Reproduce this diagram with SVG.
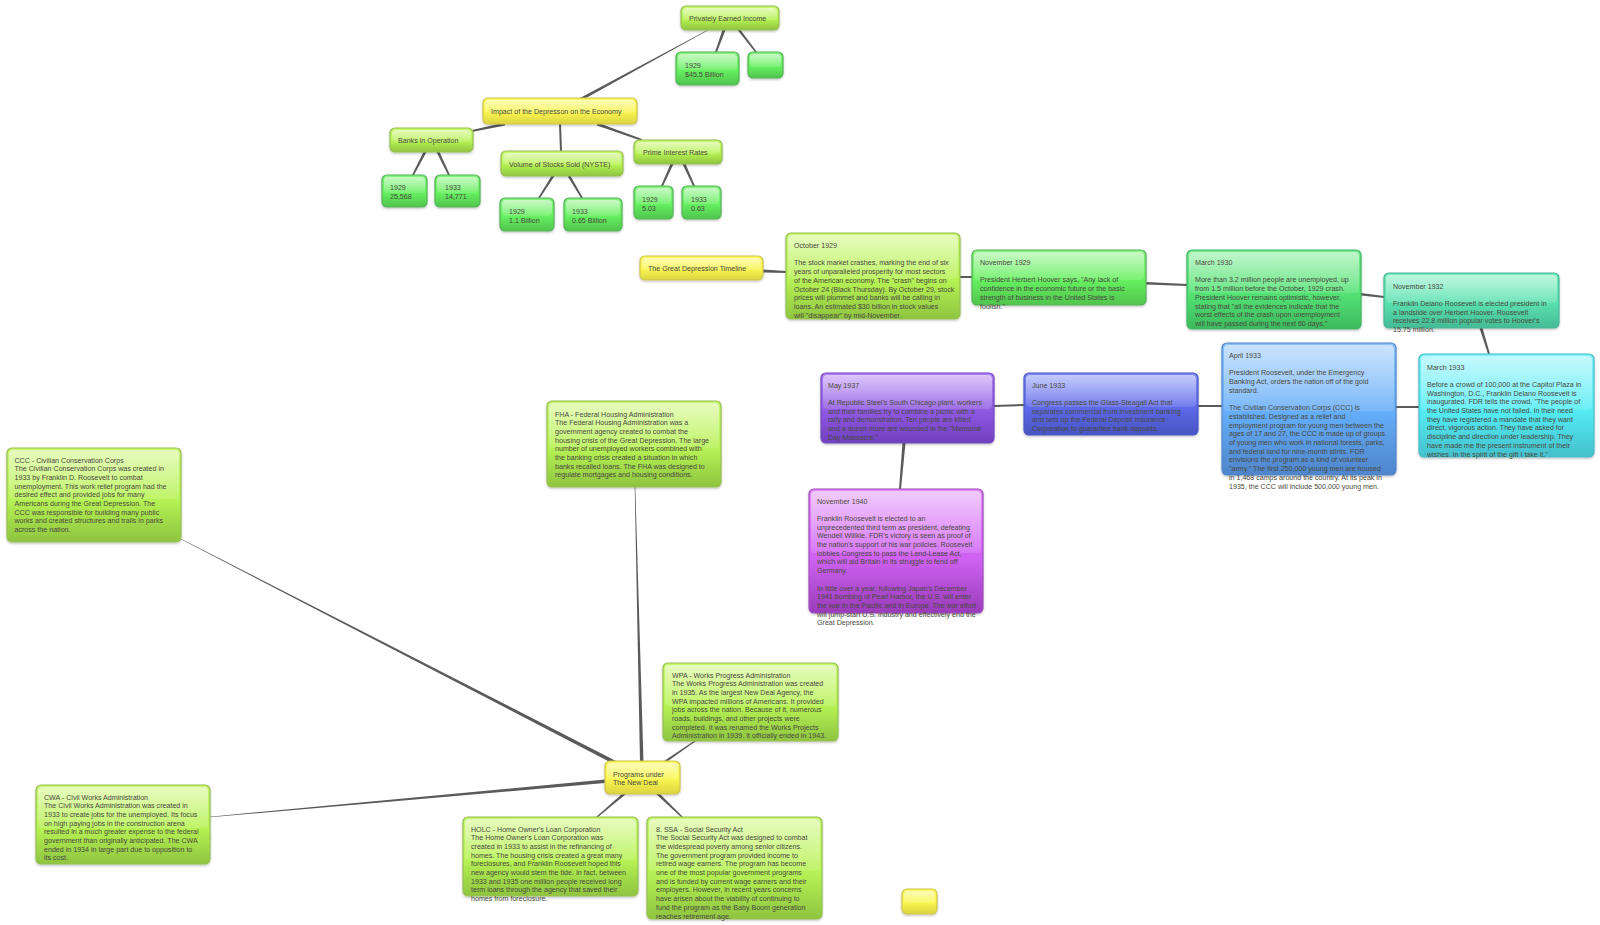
<svg xmlns="http://www.w3.org/2000/svg" width="1600" height="925" viewBox="0 0 1600 925">
<style>
text{font-family:"Liberation Sans",Arial,sans-serif;font-size:7.1px;fill:#4a4a40}
.b{stroke-width:1.2}
.g{fill:url(#gloss)}
#connectors polygon{fill:#5a5a5a}
.yellow .b{fill:url(#gy);stroke:#cfc64c}
.lime .b{fill:url(#gl);stroke:#97c050}
.green .b{fill:url(#gg);stroke:#52b556}
.mar30 .b{fill:url(#gm);stroke:#42b864}
.nov32 .b{fill:url(#gn);stroke:#48b596}
.mar33 .b{fill:url(#gc);stroke:#48bdc7}
.apr .b{fill:url(#ga);stroke:#5088cc}
.jun .b{fill:url(#gj);stroke:#4c58c4}
.may .b{fill:url(#gp);stroke:#7448c0}
.nov40 .b{fill:url(#gv);stroke:#a24dc0}
</style>
<defs>
<filter id="s" x="-10%" y="-10%" width="120%" height="125%"><feDropShadow dx="0" dy="1.2" stdDeviation="1" flood-color="#000" flood-opacity=".25"/></filter>
<linearGradient id="gloss" x1="0" y1="0" x2="0" y2="1"><stop offset="0" stop-color="#fff" stop-opacity=".55"/><stop offset="1" stop-color="#fff" stop-opacity=".12"/></linearGradient>
<linearGradient id="gy" x1="0" y1="0" x2="0" y2="1"><stop offset="0" stop-color="#fbf860"/><stop offset=".55" stop-color="#f9f550"/><stop offset="1" stop-color="#dcd340"/></linearGradient>
<linearGradient id="gl" x1="0" y1="0" x2="0" y2="1"><stop offset="0" stop-color="#c8f66e"/><stop offset=".55" stop-color="#b6f254"/><stop offset="1" stop-color="#8ec440"/></linearGradient>
<linearGradient id="gg" x1="0" y1="0" x2="0" y2="1"><stop offset="0" stop-color="#86f27e"/><stop offset=".55" stop-color="#66f060"/><stop offset="1" stop-color="#50c44e"/></linearGradient>
<linearGradient id="gm" x1="0" y1="0" x2="0" y2="1"><stop offset="0" stop-color="#72ea8a"/><stop offset=".55" stop-color="#54e274"/><stop offset="1" stop-color="#3cba5e"/></linearGradient>
<linearGradient id="gn" x1="0" y1="0" x2="0" y2="1"><stop offset="0" stop-color="#72ecbc"/><stop offset=".55" stop-color="#5ae0b0"/><stop offset="1" stop-color="#44bb94"/></linearGradient>
<linearGradient id="gc" x1="0" y1="0" x2="0" y2="1"><stop offset="0" stop-color="#7cf2fa"/><stop offset=".55" stop-color="#54ecf4"/><stop offset="1" stop-color="#44c0cc"/></linearGradient>
<linearGradient id="ga" x1="0" y1="0" x2="0" y2="1"><stop offset="0" stop-color="#88c0fc"/><stop offset=".55" stop-color="#64acf8"/><stop offset="1" stop-color="#4e85ca"/></linearGradient>
<linearGradient id="gj" x1="0" y1="0" x2="0" y2="1"><stop offset="0" stop-color="#7c88f4"/><stop offset=".55" stop-color="#5e6aea"/><stop offset="1" stop-color="#4854c2"/></linearGradient>
<linearGradient id="gp" x1="0" y1="0" x2="0" y2="1"><stop offset="0" stop-color="#b080f4"/><stop offset=".55" stop-color="#8e58e2"/><stop offset="1" stop-color="#7040be"/></linearGradient>
<linearGradient id="gv" x1="0" y1="0" x2="0" y2="1"><stop offset="0" stop-color="#e088fa"/><stop offset=".55" stop-color="#d062f4"/><stop offset="1" stop-color="#983cb8"/></linearGradient>
</defs>
<rect width="1600" height="925" fill="#fff"/>
<g id="connectors">
<polygon points="580,98 586,98 708.5,30 707.5,30"/>
<polygon points="722.5,30 725.5,30 717,52 715,52"/>
<polygon points="737.5,30 740.5,30 757,52 755,52"/>
<polygon points="505,122.5 505,125.5 472,132 472,130"/>
<polygon points="559,124 561,124 562,151 560,151"/>
<polygon points="597,122.5 597,125.5 642,141 642,139"/>
<polygon points="423.5,152 426.5,152 414,175 412,175"/>
<polygon points="436.5,152 439.5,152 450,175 448,175"/>
<polygon points="551.5,176 554.5,176 540,198 538,198"/>
<polygon points="567.5,176 570.5,176 583,198 581,198"/>
<polygon points="670.5,164 673.5,164 663,186 661,186"/>
<polygon points="682.5,164 685.5,164 695,186 693,186"/>
<polygon points="763,269.5 763,272.5 786,273 786,271"/>
<polygon points="960,276 960,278 972,278 972,276"/>
<polygon points="1146,282 1146,284.5 1187,286 1187,284"/>
<polygon points="1361,293 1361,295.5 1384,298 1384,296"/>
<polygon points="1479.5,328 1482.5,328 1490,354 1488,354"/>
<polygon points="1419,406 1419,408 1396,408 1396,406"/>
<polygon points="1222,405 1222,407 1198,407 1198,405"/>
<polygon points="1024,404 1024,406 994,407 994,405"/>
<polygon points="902.5,443 905.5,443 901,489 899,489"/>
<polygon points="608,761 616,761 181.5,539 180.5,539"/>
<polygon points="640,762 643.5,762 635.3,487 634.7,487"/>
<polygon points="664,761 668,761 696,741 694,741"/>
<polygon points="605,779.5 605,783 210,817.3 210,816.7"/>
<polygon points="622,794 626,794 598,817 596,817"/>
<polygon points="656,794 660,794 683,817 681,817"/>
</g>

<g id="n-privately" class="lime"><rect class="b" x="681" y="6" width="98" height="24" rx="5" filter="url(#s)"/><rect class="g" x="683" y="8" width="94" height="12" rx="4"/><text x="689" y="20.5">Privately Earned Income</text></g>
<g id="n-income-1929" class="green"><rect class="b" x="676" y="52" width="63" height="33" rx="5" filter="url(#s)"/><rect class="g" x="678" y="54" width="59" height="16" rx="4"/><text x="685" y="68"><tspan x="685">1929</tspan><tspan x="685" dy="9">$45.5 Billion</tspan></text></g>
<g id="n-income-empty" class="green"><rect class="b" x="748" y="52" width="35" height="26" rx="5" filter="url(#s)"/><rect class="g" x="750" y="54" width="31" height="13" rx="4"/></g>
<g id="n-impact" class="yellow"><rect class="b" x="483" y="98" width="154" height="26" rx="5" filter="url(#s)"/><rect class="g" x="485" y="100" width="150" height="13" rx="4"/><text x="491" y="114">Impact of the Depresson on the Economy</text></g>
<g id="n-banks" class="lime"><rect class="b" x="390" y="128" width="83" height="24" rx="5" filter="url(#s)"/><rect class="g" x="392" y="130" width="79" height="12" rx="4"/><text x="398" y="143">Banks in Operation</text></g>
<g id="n-volume" class="lime"><rect class="b" x="501" y="151" width="122" height="25" rx="5" filter="url(#s)"/><rect class="g" x="503" y="153" width="118" height="12" rx="4"/><text x="509" y="166.5">Volume of Stocks Sold (NYSTE)</text></g>
<g id="n-prime" class="lime"><rect class="b" x="634" y="140" width="88" height="24" rx="5" filter="url(#s)"/><rect class="g" x="636" y="142" width="84" height="12" rx="4"/><text x="643" y="155">Prime Interest Rates</text></g>
<g id="n-banks-1929" class="green"><rect class="b" x="382" y="175" width="45" height="32" rx="5" filter="url(#s)"/><rect class="g" x="384" y="177" width="41" height="16" rx="4"/><text y="190"><tspan x="390">1929</tspan><tspan x="390" dy="9">25,568</tspan></text></g>
<g id="n-banks-1933" class="green"><rect class="b" x="435" y="175" width="45" height="32" rx="5" filter="url(#s)"/><rect class="g" x="437" y="177" width="41" height="16" rx="4"/><text y="190"><tspan x="445">1933</tspan><tspan x="445" dy="9">14,771</tspan></text></g>
<g id="n-vol-1929" class="green"><rect class="b" x="500" y="198" width="54" height="33" rx="5" filter="url(#s)"/><rect class="g" x="502" y="200" width="50" height="16" rx="4"/><text y="213.5"><tspan x="509">1929</tspan><tspan x="509" dy="9">1.1 Billion</tspan></text></g>
<g id="n-vol-1933" class="green"><rect class="b" x="564" y="198" width="58" height="33" rx="5" filter="url(#s)"/><rect class="g" x="566" y="200" width="54" height="16" rx="4"/><text y="213.5"><tspan x="572">1933</tspan><tspan x="572" dy="9">0.65 Billion</tspan></text></g>
<g id="n-prime-1929" class="green"><rect class="b" x="634" y="186" width="39" height="33" rx="5" filter="url(#s)"/><rect class="g" x="636" y="188" width="35" height="16" rx="4"/><text y="201.5"><tspan x="642">1929</tspan><tspan x="642" dy="9">5.03</tspan></text></g>
<g id="n-prime-1933" class="green"><rect class="b" x="682" y="186" width="39" height="33" rx="5" filter="url(#s)"/><rect class="g" x="684" y="188" width="35" height="16" rx="4"/><text y="201.5"><tspan x="691">1933</tspan><tspan x="691" dy="9">0.63</tspan></text></g>

<g id="n-timeline" class="yellow"><rect class="b" x="640" y="256" width="123" height="24" rx="5" filter="url(#s)"/><rect class="g" x="642" y="258" width="119" height="12" rx="4"/><text x="648" y="271">The Great Depression Timeline</text></g>
<g id="n-oct29" class="lime"><rect class="b" x="786" y="233" width="174" height="86" rx="5" filter="url(#s)"/><rect class="g" x="788" y="235" width="170" height="44" rx="4"/><text y="248"><tspan x="794">October 1929</tspan><tspan x="794" dy="17.4">The stock market crashes, marking the end of six</tspan><tspan x="794" dy="8.7">years of unparalleled prosperity for most sectors</tspan><tspan x="794" dy="8.7">of the American economy. The "crash" begins on</tspan><tspan x="794" dy="8.7">October 24 (Black Thursday). By October 29, stock</tspan><tspan x="794" dy="8.7">prices will plummet and banks will be calling in</tspan><tspan x="794" dy="8.7">loans. An estimated $30 billion in stock values</tspan><tspan x="794" dy="8.7">will "disappear" by mid-November.</tspan></text></g>
<g id="n-nov29" class="green"><rect class="b" x="972" y="250" width="174" height="55" rx="5" filter="url(#s)"/><rect class="g" x="974" y="252" width="170" height="28" rx="4"/><text y="265"><tspan x="980">November 1929</tspan><tspan x="980" dy="17.4">President Herbert Hoover says, "Any lack of</tspan><tspan x="980" dy="8.7">confidence in the economic future or the basic</tspan><tspan x="980" dy="8.7">strength of business in the United States is</tspan><tspan x="980" dy="8.7">foolish."</tspan></text></g>
<g id="n-mar30" class="mar30"><rect class="b" x="1187" y="250" width="174" height="79" rx="5" filter="url(#s)"/><rect class="g" x="1189" y="252" width="170" height="41" rx="4"/><text y="265"><tspan x="1195">March 1930</tspan><tspan x="1195" dy="17.4">More than 3.2 million people are unemployed, up</tspan><tspan x="1195" dy="8.7">from 1.5 million before the October, 1929 crash.</tspan><tspan x="1195" dy="8.7">President Hoover remains optimistic, however,</tspan><tspan x="1195" dy="8.7">stating that "all the evidences indicate that the</tspan><tspan x="1195" dy="8.7">worst effects of the crash upon unemployment</tspan><tspan x="1195" dy="8.7">will have passed during the next 60 days."</tspan></text></g>
<g id="n-nov32" class="nov32"><rect class="b" x="1384" y="273" width="175" height="55" rx="5" filter="url(#s)"/><rect class="g" x="1386" y="275" width="171" height="28" rx="4"/><text y="288.5"><tspan x="1393">November 1932</tspan><tspan x="1393" dy="17.4">Franklin Delano Roosevelt is elected president in</tspan><tspan x="1393" dy="8.7">a landslide over Herbert Hoover. Roosevelt</tspan><tspan x="1393" dy="8.7">receives 22.8 million popular votes to Hoover's</tspan><tspan x="1393" dy="8.7">15.75 million.</tspan></text></g>
<g id="n-mar33" class="mar33"><rect class="b" x="1419" y="354" width="175" height="103" rx="5" filter="url(#s)"/><rect class="g" x="1421" y="356" width="171" height="54" rx="4"/><text y="369.5"><tspan x="1427">March 1933</tspan><tspan x="1427" dy="17.4">Before a crowd of 100,000 at the Capitol Plaza in</tspan><tspan x="1427" dy="8.7">Washington, D.C., Franklin Delano Roosevelt is</tspan><tspan x="1427" dy="8.7">inaugurated. FDR tells the crowd, "The people of</tspan><tspan x="1427" dy="8.7">the United States have not failed. In their need</tspan><tspan x="1427" dy="8.7">they have registered a mandate that they want</tspan><tspan x="1427" dy="8.7">direct, vigorous action. They have asked for</tspan><tspan x="1427" dy="8.7">discipline and direction under leadership. They</tspan><tspan x="1427" dy="8.7">have made me the present instrument of their</tspan><tspan x="1427" dy="8.7">wishes. In the spirit of the gift I take it."</tspan></text></g>
<g id="n-apr33" class="apr"><rect class="b" x="1222" y="343" width="174" height="132" rx="5" filter="url(#s)"/><rect class="g" x="1224" y="345" width="170" height="66" rx="4"/><text y="358"><tspan x="1229">April 1933</tspan><tspan x="1229" dy="17.4">President Roosevelt, under the Emergency</tspan><tspan x="1229" dy="8.7">Banking Act, orders the nation off of the gold</tspan><tspan x="1229" dy="8.7">standard.</tspan><tspan x="1229" dy="17.4">The Civilian Conservation Corps (CCC) is</tspan><tspan x="1229" dy="8.7">established. Designed as a relief and</tspan><tspan x="1229" dy="8.7">employment program for young men between the</tspan><tspan x="1229" dy="8.7">ages of 17 and 27, the CCC is made up of groups</tspan><tspan x="1229" dy="8.7">of young men who work in national forests, parks,</tspan><tspan x="1229" dy="8.7">and federal land for nine-month stints. FDR</tspan><tspan x="1229" dy="8.7">envisions the program as a kind of volunteer</tspan><tspan x="1229" dy="8.7">"army." The first 250,000 young men are housed</tspan><tspan x="1229" dy="8.7">in 1,468 camps around the country. At its peak in</tspan><tspan x="1229" dy="8.7">1935, the CCC will include 500,000 young men.</tspan></text></g>
<g id="n-jun33" class="jun"><rect class="b" x="1024" y="373" width="174" height="62" rx="5" filter="url(#s)"/><rect class="g" x="1026" y="375" width="170" height="32" rx="4"/><text y="387.5"><tspan x="1032">June 1933</tspan><tspan x="1032" dy="17.4">Congress passes the Glass-Steagall Act that</tspan><tspan x="1032" dy="8.7">separates commercial from investment banking</tspan><tspan x="1032" dy="8.7">and sets up the Federal Deposit Insurance</tspan><tspan x="1032" dy="8.7">Corporation to guarantee bank deposits.</tspan></text></g>
<g id="n-may37" class="may"><rect class="b" x="821" y="373" width="173" height="70" rx="5" filter="url(#s)"/><rect class="g" x="823" y="375" width="169" height="34" rx="4"/><text y="387.5"><tspan x="828">May 1937</tspan><tspan x="828" dy="17.4">At Republic Steel's South Chicago plant, workers</tspan><tspan x="828" dy="8.7">and their families try to combine a picnic with a</tspan><tspan x="828" dy="8.7">rally and demonstration. Ten people are killed</tspan><tspan x="828" dy="8.7">and a dozen more are wounded in the "Memorial</tspan><tspan x="828" dy="8.7">Day Massacre."</tspan></text></g>
<g id="n-nov40" class="nov40"><rect class="b" x="809" y="489" width="174" height="124" rx="5" filter="url(#s)"/><rect class="g" x="811" y="491" width="170" height="62" rx="4"/><text y="503.5"><tspan x="817">November 1940</tspan><tspan x="817" dy="17.4">Franklin Roosevelt is elected to an</tspan><tspan x="817" dy="8.7">unprecedented third term as president, defeating</tspan><tspan x="817" dy="8.7">Wendell Willkie. FDR's victory is seen as proof of</tspan><tspan x="817" dy="8.7">the nation's support of his war policies. Roosevelt</tspan><tspan x="817" dy="8.7">lobbies Congress to pass the Lend-Lease Act,</tspan><tspan x="817" dy="8.7">which will aid Britain in its struggle to fend off</tspan><tspan x="817" dy="8.7">Germany.</tspan><tspan x="817" dy="17.4">In little over a year, following Japan's December</tspan><tspan x="817" dy="8.7">1941 bombing of Pearl Harbor, the U.S. will enter</tspan><tspan x="817" dy="8.7">the war in the Pacific and in Europe. The war effort</tspan><tspan x="817" dy="8.7">will jump-start U.S. industry and effectively end the</tspan><tspan x="817" dy="8.7">Great Depression.</tspan></text></g>

<g id="n-fha" class="lime"><rect class="b" x="547" y="401" width="174" height="86" rx="5" filter="url(#s)"/><rect class="g" x="549" y="403" width="170" height="45" rx="4"/><text y="416.5"><tspan x="555">FHA - Federal Housing Administration</tspan><tspan x="555" dy="8.7">The Federal Housing Administration was a</tspan><tspan x="555" dy="8.7">government agency created to combat the</tspan><tspan x="555" dy="8.7">housing crisis of the Great Depression. The large</tspan><tspan x="555" dy="8.7">number of unemployed workers combined with</tspan><tspan x="555" dy="8.7">the banking crisis created a situation in which</tspan><tspan x="555" dy="8.7">banks recalled loans. The FHA was designed to</tspan><tspan x="555" dy="8.7">regulate mortgages and housing conditions.</tspan></text></g>
<g id="n-ccc" class="lime"><rect class="b" x="7" y="448" width="174" height="94" rx="5" filter="url(#s)"/><rect class="g" x="9" y="450" width="170" height="49" rx="4"/><text y="462.5"><tspan x="14.5">CCC - Civilian Conservation Corps</tspan><tspan x="14.5" dy="8.7">The Civilian Conservation Corps was created in</tspan><tspan x="14.5" dy="8.7">1933 by Franklin D. Roosevelt to combat</tspan><tspan x="14.5" dy="8.7">unemployment. This work relief program had the</tspan><tspan x="14.5" dy="8.7">desired effect and provided jobs for many</tspan><tspan x="14.5" dy="8.7">Americans during the Great Depression. The</tspan><tspan x="14.5" dy="8.7">CCC was responsible for building many public</tspan><tspan x="14.5" dy="8.7">works and created structures and trails in parks</tspan><tspan x="14.5" dy="8.7">across the nation.</tspan></text></g>
<g id="n-wpa" class="lime"><rect class="b" x="663" y="663" width="175" height="78" rx="5" filter="url(#s)"/><rect class="g" x="665" y="665" width="171" height="41" rx="4"/><text y="677.5"><tspan x="672">WPA - Works Progress Administration</tspan><tspan x="672" dy="8.7">The Works Progress Administration was created</tspan><tspan x="672" dy="8.7">in 1935. As the largest New Deal Agency, the</tspan><tspan x="672" dy="8.7">WPA impacted millions of Americans. It provided</tspan><tspan x="672" dy="8.7">jobs across the nation. Because of it, numerous</tspan><tspan x="672" dy="8.7">roads, buildings, and other projects were</tspan><tspan x="672" dy="8.7">completed. It was renamed the Works Projects</tspan><tspan x="672" dy="8.7">Administration in 1939. It officially ended in 1943.</tspan></text></g>
<g id="n-programs" class="yellow"><rect class="b" x="605" y="761" width="75" height="33" rx="5" filter="url(#s)"/><rect class="g" x="607" y="763" width="71" height="16" rx="4"/><text y="776.5"><tspan x="613">Programs under</tspan><tspan x="613" dy="8.7">The New Deal</tspan></text></g>
<g id="n-cwa" class="lime"><rect class="b" x="36" y="785" width="174" height="79" rx="5" filter="url(#s)"/><rect class="g" x="38" y="787" width="170" height="41" rx="4"/><text y="799.5"><tspan x="44">CWA - Civil Works Administration</tspan><tspan x="44" dy="8.7">The Civil Works Administration was created in</tspan><tspan x="44" dy="8.7">1933 to create jobs for the unemployed. Its focus</tspan><tspan x="44" dy="8.7">on high paying jobs in the construction arena</tspan><tspan x="44" dy="8.7">resulted in a much greater expense to the federal</tspan><tspan x="44" dy="8.7">government than originally anticipated. The CWA</tspan><tspan x="44" dy="8.7">ended in 1934 in large part due to opposition to</tspan><tspan x="44" dy="8.7">its cost.</tspan></text></g>
<g id="n-holc" class="lime"><rect class="b" x="463" y="817" width="175" height="79" rx="5" filter="url(#s)"/><rect class="g" x="465" y="819" width="171" height="41" rx="4"/><text y="831.5"><tspan x="471">HOLC - Home Owner's Loan Corporation</tspan><tspan x="471" dy="8.7">The Home Owner's Loan Corporation was</tspan><tspan x="471" dy="8.7">created in 1933 to assist in the refinancing of</tspan><tspan x="471" dy="8.7">homes. The housing crisis created a great many</tspan><tspan x="471" dy="8.7">foreclosures, and Franklin Roosevelt hoped this</tspan><tspan x="471" dy="8.7">new agency would stem the tide. In fact, between</tspan><tspan x="471" dy="8.7">1933 and 1935 one million people received long</tspan><tspan x="471" dy="8.7">term loans through the agency that saved their</tspan><tspan x="471" dy="8.7">homes from foreclosure.</tspan></text></g>
<g id="n-ssa" class="lime"><rect class="b" x="647" y="817" width="175" height="102" rx="5" filter="url(#s)"/><rect class="g" x="649" y="819" width="171" height="52" rx="4"/><text y="831.5"><tspan x="656">8. SSA - Social Security Act</tspan><tspan x="656" dy="8.7">The Social Security Act was designed to combat</tspan><tspan x="656" dy="8.7">the widespread poverty among senior citizens.</tspan><tspan x="656" dy="8.7">The government program provided income to</tspan><tspan x="656" dy="8.7">retired wage earners. The program has become</tspan><tspan x="656" dy="8.7">one of the most popular government programs</tspan><tspan x="656" dy="8.7">and is funded by current wage earners and their</tspan><tspan x="656" dy="8.7">employers. However, in recent years concerns</tspan><tspan x="656" dy="8.7">have arisen about the viability of continuing to</tspan><tspan x="656" dy="8.7">fund the program as the Baby Boom generation</tspan><tspan x="656" dy="8.7">reaches retirement age.</tspan></text></g>
<g id="n-yellow-empty" class="yellow"><rect class="b" x="902" y="889" width="35" height="25" rx="5" filter="url(#s)"/><rect class="g" x="904" y="891" width="31" height="12" rx="4"/></g>
</svg>
